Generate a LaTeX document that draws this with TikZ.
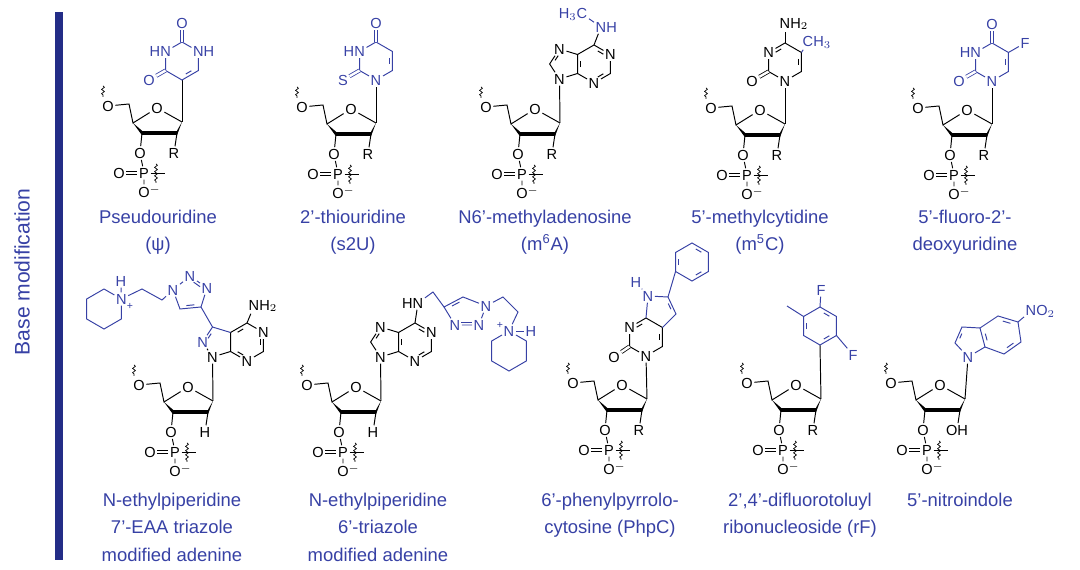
\documentclass[tikz,border=0pt]{standalone}
\usepackage{fontspec}
\setmainfont{Liberation Sans}
\usetikzlibrary{calc,decorations.pathmorphing}

\definecolor{bleu}{RGB}{55,65,165}
\definecolor{barre}{RGB}{35,45,135}

% sommets d'un hexagone : 1 haut, 2 haut-droit, 3 bas-droit, 4 bas, 5 bas-gauche, 6 haut-gauche
\newcommand\hexa[3]{\foreach \k/\a in {1/-90,2/-30,3/30,4/90,5/150,6/210}{\coordinate (#1\k) at ($(#2)+(\a:#3)$);}}
% liaison double interieure
\newcommand\dbl[3]{\draw[shorten <=2.5pt,shorten >=2.5pt] ($(#1)!0.2!(#3)$)--($(#2)!0.2!(#3)$);}

\tikzset{
  atome/.style={font=\fontsize{8.3}{9}\selectfont,inner sep=0.7pt},
  liaison/.style={line width=0.55pt},
  exo/.style={double,double distance=1.4pt,line width=0.45pt},
  vague/.style={decorate,decoration={snake,amplitude=0.8pt,segment length=2.4pt},line width=0.4pt},
  legende/.style={font=\fontsize{10.5}{15.5}\selectfont,text=bleu,align=center,anchor=north},
  pics/sucre/.style={code={
    \node[atome] (-o5) at (-74,-16) {O};
    \coordinate (-c5) at (-53,-18);
    \coordinate (-c4) at (-49,1);
    \node[atome] (-o4) at (-25,-14) {O};
    \coordinate (-c1) at (0,0);
    \coordinate (-c2) at (-5,11);
    \coordinate (-c3) at (-40,11);
    \node[atome] (-o3) at (-42,31) {O};
    \node[atome] (-r) at (-8,31) {#1};
    \node[atome] (-p) at (-38,51) {P};
    \node[atome] (-op) at (-63,51) {O};
    \node[atome] (-om) at (-38,70) {O\rlap{$^-$}};
    \draw[liaison] (-o5)--(-c5)--(-c4)--(-o4)--(-c1);
    \fill (-c4)--([yshift=-1.3pt]-c3)--([yshift=1.3pt]-c3)--cycle;
    \draw[line width=2.6pt] (-c3)--(-c2);
    \fill (-c1)--([yshift=-1.3pt]-c2)--([yshift=1.3pt]-c2)--cycle;
    \draw[liaison] (-c3)--(-o3)--(-p)--(-om);
    \draw[liaison] (-c2)--(-r);
    \draw[exo] (-op)--(-p);
    \draw[liaison] (-p)--(-17,51);
    \draw[vague] (-79,-36)--(-79,-25);
    \draw[vague] (-26,42)--(-26,61);
  }}
}

\begin{document}
\begin{tikzpicture}[x=0.02cm,y=-0.02cm,liaison]
\useasboundingbox (0,0) rectangle (1080,570);

% bandeau
\fill[barre] (55,12) rectangle (63,560);
\node[rotate=90,text=bleu,font=\fontsize{12}{14}\selectfont] (titre) at (22,272) {Base modification};

% squelettes
\pic (s1) at (182,122) {sucre=R};
\pic (s2) at (376,123) {sucre=R};
\pic (s3) at (560,123) {sucre=R};
\pic (s4) at (785,124) {sucre=R};
\pic (s5) at (992,124) {sucre=R};
\pic (s6) at (213,401) {sucre=H};
\pic (s7) at (381,401) {sucre=H};
\pic (s8) at (647,399) {sucre=R};
\pic (s9) at (821,399) {sucre=R};
\pic (s10) at (965,399) {sucre=OH};

% pseudouridine
\coordinate (a) at (182,61); \hexa{a}{a}{19}
\draw (s1-c1)--(a4);
\begin{scope}[bleu,every node/.style={atome,text=bleu}]
  \node (a-n1) at (a2) {N\rlap{H}};
  \node (a-n3) at (a6) {\llap{H}N};
  \node (a-o2) at (182,23) {O};
  \node (a-o4) at (149,80) {O};
  \draw (a1)--(a-n1)--(a3)--(a4)--(a5)--(a-n3)--(a1);
  \draw[exo] (a1)--(a-o2); \draw[exo] (a5)--(a-o4);
  \dbl{a3}{a4}{a}
\end{scope}

% 2-thiouridine
\coordinate (b) at (376,61); \hexa{b}{b}{19}
\begin{scope}[bleu,every node/.style={atome,text=bleu}]
  \node (b-n1) at (b4) {N};
  \node (b-n3) at (b6) {\llap{H}N};
  \node (b-o4) at (376,23) {O};
  \node (b-s2) at (343,80) {S};
  \draw (b1)--(b2)--(b3)--(b-n1)--(b5)--(b-n3)--(b1);
  \draw[exo] (b1)--(b-o4); \draw[exo] (b5)--(b-s2);
  \dbl{b2}{b3}{b}
\end{scope}
\draw (s2-c1)--(b-n1);

% N6-methyladenosine
\coordinate (c) at (594,64); \hexa{c}{c}{19}
\coordinate (c-p) at (565,64);
\node[atome] (c-n1) at (c2) {N};
\node[atome] (c-n3) at (c4) {N};
\node[atome] (c-n9) at (559.5,79) {N};
\coordinate (c-c8) at (549.6,64);
\node[atome] (c-n7) at (559.5,49) {N};
\draw (c1)--(c-n1)--(c3)--(c-n3)--(c5)--(c6)--(c1);
\draw (c5)--(c-n9)--(c-c8)--(c-n7)--(c6);
\dbl{c5}{c6}{c} \dbl{c1}{c-n1}{c} \dbl{c3}{c-n3}{c} \dbl{c-c8}{c-n7}{c-p}
\draw (s3-c1)--(c-n9);
\node[atome,text=bleu] (c-n6) at (601,27) {N\rlap{H}};
\node[atome,text=bleu] (c-me) at (582,14) {\llap{H$_3$}C};
\draw (c1)--(c-n6);
\draw[bleu] (c-n6)--(c-me);

% 5-methylcytidine
\coordinate (d) at (785,62); \hexa{d}{d}{19}
\node[atome] (d-n1) at (d4) {N};
\node[atome] (d-n3) at (d6) {N};
\node[atome] (d-o2) at (752,81) {O};
\node[atome] (d-n4) at (785,24) {N\rlap{H$_2$}};
\node[atome,text=bleu] (d-me) at (808,42) {C\rlap{H$_3$}};
\draw (d1)--(d2)--(d3)--(d-n1)--(d5)--(d-n3)--(d1);
\draw[exo] (d5)--(d-o2);
\draw (d1)--(d-n4);
\draw[bleu] (d2)--(d-me);
\dbl{d-n3}{d1}{d} \dbl{d2}{d3}{d}
\draw (s4-c1)--(d-n1);

% 5-fluoro-2-deoxyuridine
\coordinate (e) at (992,62); \hexa{e}{e}{19}
\begin{scope}[bleu,every node/.style={atome,text=bleu}]
  \node (e-n1) at (e4) {N};
  \node (e-n3) at (e6) {\llap{H}N};
  \node (e-o4) at (992,24) {O};
  \node (e-o2) at (959,81) {O};
  \node (e-f) at (1025,43) {F};
  \draw (e1)--(e2)--(e3)--(e-n1)--(e5)--(e-n3)--(e1);
  \draw[exo] (e1)--(e-o4); \draw[exo] (e5)--(e-o2);
  \draw (e2)--(e-f);
  \dbl{e2}{e3}{e}
\end{scope}
\draw (s5-c1)--(e-n1);

% N-ethylpiperidine 7-EAA triazole adenine
\coordinate (f) at (247,342); \hexa{f}{f}{19}
\coordinate (f-p) at (218,342);
\node[atome] (f-n5) at (f2) {N};
\node[atome] (f-n7) at (f4) {N};
\node[atome] (f-n1) at (212.5,357) {N};
\node[atome,text=bleu] (f-n2) at (202.6,342) {N};
\coordinate (f-c3) at (212.5,327);
\node[atome] (f-nh) at (254,306) {N\rlap{H$_2$}};
\draw (f1)--(f-n5)--(f3)--(f-n7)--(f5)--(f6)--(f1);
\draw (f1)--(f-nh);
\draw (f5)--(f-n1)--(f-n2);
\draw[bleu] (f-n2)--(f-c3)--(f6);
\dbl{f6}{f1}{f} \dbl{f-n5}{f3}{f} \dbl{f-n7}{f5}{f}
\begin{scope}[bleu]
  \dbl{f-n2}{f-c3}{f-p}
\end{scope}
\draw (s6-c1)--(f-n1);
\begin{scope}[bleu,every node/.style={atome,text=bleu}]
  \coordinate (g) at (190,294);
  \node (g-n1) at (173,290) {N};
  \node (g-n2) at (190,276) {N};
  \node (g-n3) at (207,288) {N};
  \coordinate (g-c4) at (201,307);
  \coordinate (g-c5) at (180,309);
  \draw (g-n1)--(g-n2)--(g-n3)--(g-c4)--(g-c5)--(g-n1);
  \dbl{g-n2}{g-n3}{g} \dbl{g-c4}{g-c5}{g}
  \draw (f-c3)--(g-c4);
  \coordinate (h) at (104,309); \hexa{h}{h}{20}
  \node (h-n) at (h2) {N};
  \node (h-h) at (121,281) {H};
  \node[font=\fontsize{6}{6}\selectfont,inner sep=0pt] (h-plus) at (130,306) {+};
  \draw (g-n1)--(162,300)--(142,289)--(h-n);
  \draw (h1)--(h-n)--(h3)--(h4)--(h5)--(h6)--(h1);
  \draw (h-n)--(h-h);
\end{scope}

% N-ethylpiperidine 6-triazole adenine
\coordinate (k) at (415,342); \hexa{k}{k}{19}
\coordinate (k-p) at (386,342);
\node[atome] (k-n1) at (k2) {N};
\node[atome] (k-n3) at (k4) {N};
\node[atome] (k-n9) at (380.5,357) {N};
\coordinate (k-c8) at (370.6,342);
\node[atome] (k-n7) at (380.5,327) {N};
\node[atome] (k-n6) at (418,303) {\llap{H}N};
\draw (k1)--(k-n1)--(k3)--(k-n3)--(k5)--(k6)--(k1);
\draw (k5)--(k-n9)--(k-c8)--(k-n7)--(k6);
\dbl{k5}{k6}{k} \dbl{k1}{k-n1}{k} \dbl{k3}{k-n3}{k} \dbl{k-c8}{k-n7}{k-p}
\draw (k1)--(k-n6);
\draw (s7-c1)--(k-n9);
\begin{scope}[bleu,every node/.style={atome,text=bleu}]
  \coordinate (m) at (465,312);
  \coordinate (m-c4) at (444,307);
  \coordinate (m-c5) at (463,297);
  \node (m-n1) at (486,306) {N};
  \node (m-n2) at (479,325) {N};
  \node (m-n3) at (455,325) {N};
  \draw (m-c4)--(m-c5)--(m-n1)--(m-n2)--(m-n3)--(m-c4);
  \dbl{m-c4}{m-c5}{m} \dbl{m-n2}{m-n3}{m}
  \draw (k-n6)--(433,292)--(m-c4);
  \coordinate (q) at (509,351); \hexa{q}{q}{20}
  \node (q-n) at (q1) {N};
  \node (q-h) at (531,331) {H};
  \node[font=\fontsize{6}{6}\selectfont,inner sep=0pt] (q-plus) at (500,325) {+};
  \draw (m-n1)--(503,297)--(518,312)--(q-n);
  \draw (q-n)--(q2)--(q3)--(q4)--(q5)--(q6)--(q-n);
  \draw (q-n)--(q-h);
\end{scope}

% phenylpyrrolocytosine
\coordinate (p) at (646,337); \hexa{p}{p}{19}
\node[atome] (p-n1) at (p4) {N};
\node[atome] (p-n3) at (p6) {N};
\node[atome] (p-o2) at (614,357) {O};
\draw (p1)--(p2)--(p3)--(p-n1)--(p5)--(p-n3)--(p1);
\draw[exo] (p5)--(p-o2);
\dbl{p-n3}{p1}{p} \dbl{p2}{p3}{p}
\draw (s8-c1)--(p-n1);
\begin{scope}[bleu,every node/.style={atome,text=bleu}]
  \coordinate (u) at (660,310);
  \node (u-n7) at (648,296) {N};
  \node (u-h) at (636,282) {H};
  \coordinate (u-c6) at (668,297);
  \coordinate (u-c5) at (676,314);
  \draw (p1)--(u-n7)--(u-c6)--(u-c5)--(p2);
  \draw (u-n7)--(u-h);
  \dbl{u-c6}{u-c5}{u}
  \coordinate (v) at (692,262); \hexa{v}{v}{19}
  \draw (u-c6)--(v5);
  \draw (v1)--(v2)--(v3)--(v4)--(v5)--(v6)--cycle;
  \dbl{v1}{v2}{v} \dbl{v3}{v4}{v} \dbl{v5}{v6}{v}
\end{scope}

% difluorotoluyl
\coordinate (t) at (820,326); \hexa{t}{t}{19}
\draw (s9-c1)--(t4);
\begin{scope}[bleu,every node/.style={atome,text=bleu}]
  \node (t-f1) at (821,290) {F};
  \node (t-f2) at (853,355) {F};
  \draw (t1)--(t2)--(t3)--(t4)--(t5)--(t6)--cycle;
  \dbl{t1}{t2}{t} \dbl{t3}{t4}{t} \dbl{t5}{t6}{t}
  \draw (t1)--(t-f1); \draw (t3)--(t-f2);
  \draw (t6)--(787,306);
\end{scope}

% nitroindole
\begin{scope}[bleu,every node/.style={atome,text=bleu}]
  \node (w-n1) at (968,357) {N};
  \coordinate (w-c2) at (955,343);
  \coordinate (w-c3) at (962,327);
  \coordinate (w-c3a) at (980,328);
  \coordinate (w-c7a) at (985,347);
  \coordinate (w-c4) at (998,316);
  \coordinate (w-c5) at (1018,322);
  \coordinate (w-c6) at (1021,342);
  \coordinate (w-c7) at (1004,354);
  \coordinate (w) at (970,340);
  \coordinate (x) at (1001,335);
  \node (w-no) at (1031,311) {N\rlap{O$_2$}};
  \draw (w-n1)--(w-c2)--(w-c3)--(w-c3a)--(w-c7a)--(w-n1);
  \draw (w-c3a)--(w-c4)--(w-c5)--(w-c6)--(w-c7)--(w-c7a);
  \dbl{w-c2}{w-c3}{w} \dbl{w-c4}{w-c5}{x} \dbl{w-c6}{w-c7}{x} \dbl{w-c3a}{w-c7a}{x}
  \draw (w-c5)--(w-no);
\end{scope}
\draw (s10-c1)--(w-n1);

% legendes
\node[legende] (l1) at (158,204) {Pseudouridine\\(ψ)};
\node[legende] (l2) at (353,204) {2’-thiouridine\\(s2U)};
\node[legende] (l3) at (545,204) {N6’-methyladenosine\\(m\textsuperscript{6}A)};
\node[legende] (l4) at (760,204) {5’-methylcytidine\\(m\textsuperscript{5}C)};
\node[legende] (l5) at (965,204) {5’-fluoro-2’-\\deoxyuridine};
\node[legende] (l6) at (172,487) {N-ethylpiperidine\\7’-EAA triazole\\modified adenine};
\node[legende] (l7) at (378,487) {N-ethylpiperidine\\6’-triazole\\modified adenine};
\node[legende] (l8) at (610,487) {6’-phenylpyrrolo-\\cytosine (PhpC)};
\node[legende] (l9) at (800,487) {2’,4’-difluorotoluyl\\ribonucleoside (rF)};
\node[legende] (l10) at (960,487) {5’-nitroindole};
\end{tikzpicture}
\end{document}
